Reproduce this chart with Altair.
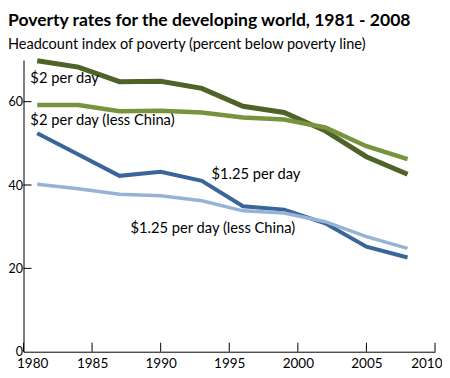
import altair as alt
import pandas as pd

years = [1981, 1984, 1987, 1990, 1993, 1996, 1999, 2002, 2005, 2008]
two_dollar = [69.8, 68.3, 64.8, 64.9, 63.2, 58.9, 57.4, 53.0, 46.8, 42.6]
two_dollar_less_china = [59.2, 59.2, 57.7, 57.8, 57.4, 56.2, 55.7, 53.8, 49.3, 46.2]
one25 = [52.4, 47.3, 42.2, 43.2, 41.0, 34.9, 34.1, 30.8, 25.2, 22.6]
one25_less_china = [40.2, 39.1, 37.8, 37.4, 36.2, 33.8, 33.3, 31.2, 27.6, 24.8]

series_names = ["$2 per day", "$2 per day (less China)", "$1.25 per day", "$1.25 per day (less China)"]
series_colors = ["#4f6228", "#77933c", "#3a659a", "#95b3d7"]
series_widths = [5, 3.5, 5, 3.5]

label_text = ["$2 per day", "$2 per day (less China)", "$1.25 per day", "$1.25 per day (less China)"]
label_year = [1980.5, 1980.5, 1993.7, 1987.8]
label_value = [65.4, 55.4, 42.4, 29.4]

y_ticks = [0, 20, 40, 60]
x_ticks = [1980, 1985, 1990, 1995, 2000, 2005, 2010]

rows = []
for name, vals in zip(series_names, [two_dollar, two_dollar_less_china, one25, one25_less_china]):
    for yr, v in zip(years, vals):
        rows.append({"series": name, "year": yr, "value": v})
df = pd.DataFrame(rows)
labels_df = pd.DataFrame({"text": label_text, "year": label_year, "value": label_value})
yt_df = pd.DataFrame({"v": y_ticks[1:]})
xt_df = pd.DataFrame({"yr": x_ticks})

FONT = "Lato"
W, H = 411.5, 291.7
xscale = alt.Scale(domain=[1980, 2010], nice=False, zero=False)
yscale = alt.Scale(domain=[0, 70], nice=False)

lines = alt.Chart(df).mark_line(strokeJoin="miter").encode(
    x=alt.X("year:Q", scale=xscale,
            axis=alt.Axis(values=x_ticks, format="d", title=None, ticks=False, grid=False,
                          domainColor="black", domainWidth=1, labelColor="black",
                          labelFontSize=13.5, labelFont=FONT, labelPadding=5,
                          labelFlush=True, labelFlushOffset=7)),
    y=alt.Y("value:Q", scale=yscale,
            axis=alt.Axis(values=y_ticks, title=None, ticks=False, grid=False,
                          domainColor="black", domainWidth=1, labelColor="black",
                          labelFontSize=12.5, labelFont=FONT, labelPadding=1)),
    color=alt.Color("series:N", scale=alt.Scale(domain=series_names, range=series_colors), legend=None),
    strokeWidth=alt.StrokeWidth("series:N", scale=alt.Scale(domain=series_names, range=series_widths), legend=None),
    order=alt.Order("year:Q"),
)

texts = alt.Chart(labels_df).mark_text(align="left", baseline="middle", font=FONT, fontSize=14.7, color="black").encode(
    x=alt.X("year:Q", scale=xscale),
    y=alt.Y("value:Q", scale=yscale),
    text="text:N",
)

ytick = alt.Chart(yt_df).mark_rule(color="black", strokeWidth=1).encode(
    y=alt.Y("v:Q", scale=yscale), x=alt.value(0), x2=alt.value(8))
xtick = alt.Chart(xt_df).mark_rule(color="black", strokeWidth=1).encode(
    x=alt.X("yr:Q", scale=xscale), y=alt.value(H), y2=alt.value(H - 9))

chart = alt.layer(ytick, xtick, lines, texts).properties(
    width=W, height=H,
    autosize=alt.AutoSizeParams(type="none"),
    padding={"left": 15.5, "top": 52, "right": 7, "bottom": 18.3},
    title=alt.Title("Poverty rates for the developing world, 1981 - 2008",
                    subtitle="Headcount index of poverty (percent below poverty line)",
                    anchor="start", frame="group", dx=-15.5, offset=-1,
                    font=FONT, fontSize=17.5, fontWeight="bold", color="black",
                    subtitleFont=FONT, subtitleFontSize=14.5, subtitleColor="black",
                    subtitlePadding=9),
).configure_view(stroke=None)

chart.save("out.html", embed_options={"renderer": "svg", "actions": False})
